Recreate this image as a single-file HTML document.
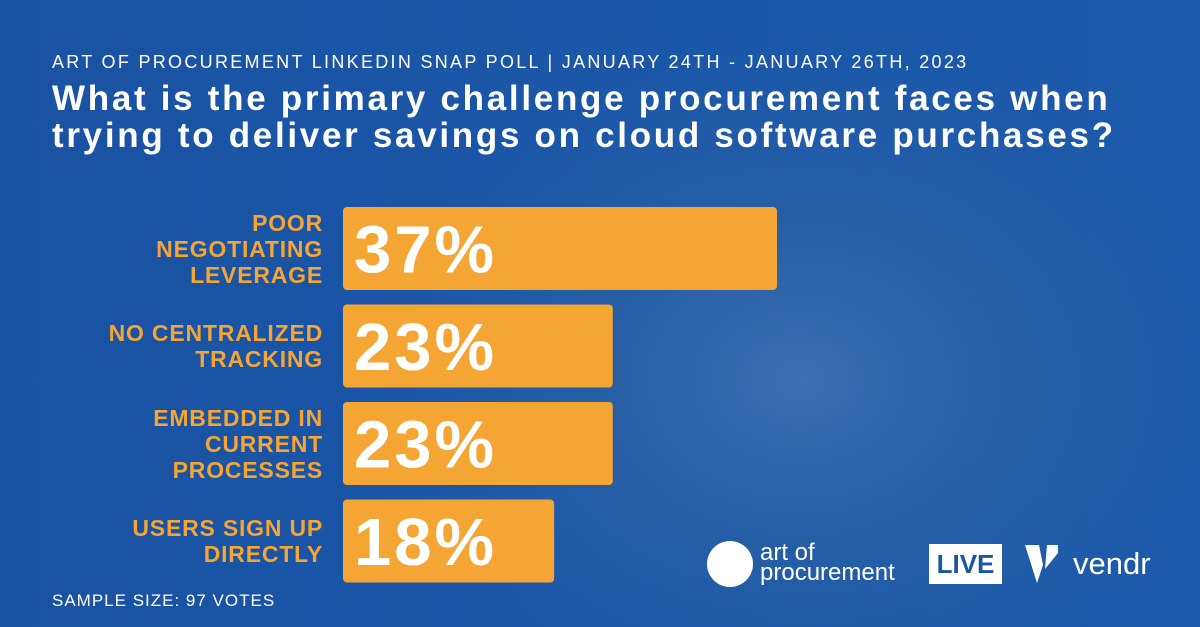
<!DOCTYPE html>
<html><head><meta charset="utf-8"><style>
body{margin:0;width:1200px;height:627px;overflow:hidden;font-family:"Liberation Sans",sans-serif}
#bg{position:absolute;inset:0;background:radial-gradient(ellipse 420px 330px at 800px 380px,#3a70b0 0%,#275fa6 45%,rgba(26,86,168,0) 100%),linear-gradient(90deg,#1a52a3 0%,#1b57a9 60%,#1d5aab 100%)}
.t{position:absolute;color:#fff}
.lab{position:absolute;right:877px;text-align:right;color:#f5a533;font-weight:bold;font-size:23px;line-height:26px;letter-spacing:0.8px}
</style></head><body>
<div id="bg"></div>
<div class="t" style="left:52px;top:52px;font-size:18px;letter-spacing:2.3px;white-space:nowrap">ART OF PROCUREMENT LINKEDIN SNAP POLL | JANUARY 24TH - JANUARY 26TH, 2023</div>
<div class="t" style="left:52px;top:80px;font-size:35px;font-weight:bold;line-height:37px;letter-spacing:2.7px;white-space:nowrap">What is the primary challenge procurement faces when<br>trying to deliver savings on cloud software purchases?</div>
<div id="labels"></div>
<svg id="chart" width="1200" height="627" style="position:absolute;left:0;top:0"></svg>
<div class="t" style="left:52px;top:591px;font-size:17px;letter-spacing:1px">SAMPLE SIZE: 97 VOTES</div>
<div style="position:absolute;left:707px;top:541px;width:46px;height:46px;border-radius:50%;background:#fff"></div>
<div class="t" style="left:760px;top:543px;font-size:24px;line-height:20px">art of<br>procurement</div>
<div style="position:absolute;left:929px;top:544px;width:73px;height:40px;background:#fff;color:#1a56a8;font-weight:bold;font-size:26px;line-height:40px;text-align:center">LIVE</div>
<svg style="position:absolute;left:1025px;top:545px" width="34" height="38"><polygon points="0,0 14,0 18,20 12,38" fill="#fff"/><polygon points="22,0 33,0 33,8 20,24" fill="#fff"/></svg>
<div class="t" style="left:1073px;top:546px;font-size:31px">vendr</div>
<script>
const categories=[["POOR","NEGOTIATING","LEVERAGE"],["NO CENTRALIZED","TRACKING"],["EMBEDDED IN","CURRENT","PROCESSES"],["USERS SIGN UP","DIRECTLY"]];
const values=[37,23,23,18];
const valueLabels=["37%","23%","23%","18%"];
const x0=343,scale=434/37,y0=207,step=97.5,bh=83;
const xs=v=>x0+v*scale, ys=i=>y0+i*step;
const svg=document.getElementById('chart'),NS='http://www.w3.org/2000/svg';
const lab=document.getElementById('labels');
values.forEach((v,i)=>{
 const r=document.createElementNS(NS,'rect');
 
 
 r.setAttribute('x',x0);r.setAttribute('y',ys(i));r.setAttribute('width',xs(v)-x0);r.setAttribute('height',bh);r.setAttribute('rx',4);r.setAttribute('fill','#f5a533');
 svg.appendChild(r);
 const t=document.createElementNS(NS,'text');
 
 
 t.setAttribute('x',354);t.setAttribute('y',ys(i)+bh/2+24);t.setAttribute('fill','#fff');t.setAttribute('font-size','67');t.setAttribute('font-weight','bold');t.setAttribute('letter-spacing','3');t.setAttribute('font-family','Liberation Sans, sans-serif');
 t.textContent=valueLabels[i];svg.appendChild(t);
 const d=document.createElement('div');
 
 
 d.className='lab';
 d.innerHTML=categories[i].join('<br>');
 d.style.top=(ys(i)+bh/2-categories[i].length*13)+'px';
 lab.appendChild(d);
});
</script>
</body></html>
